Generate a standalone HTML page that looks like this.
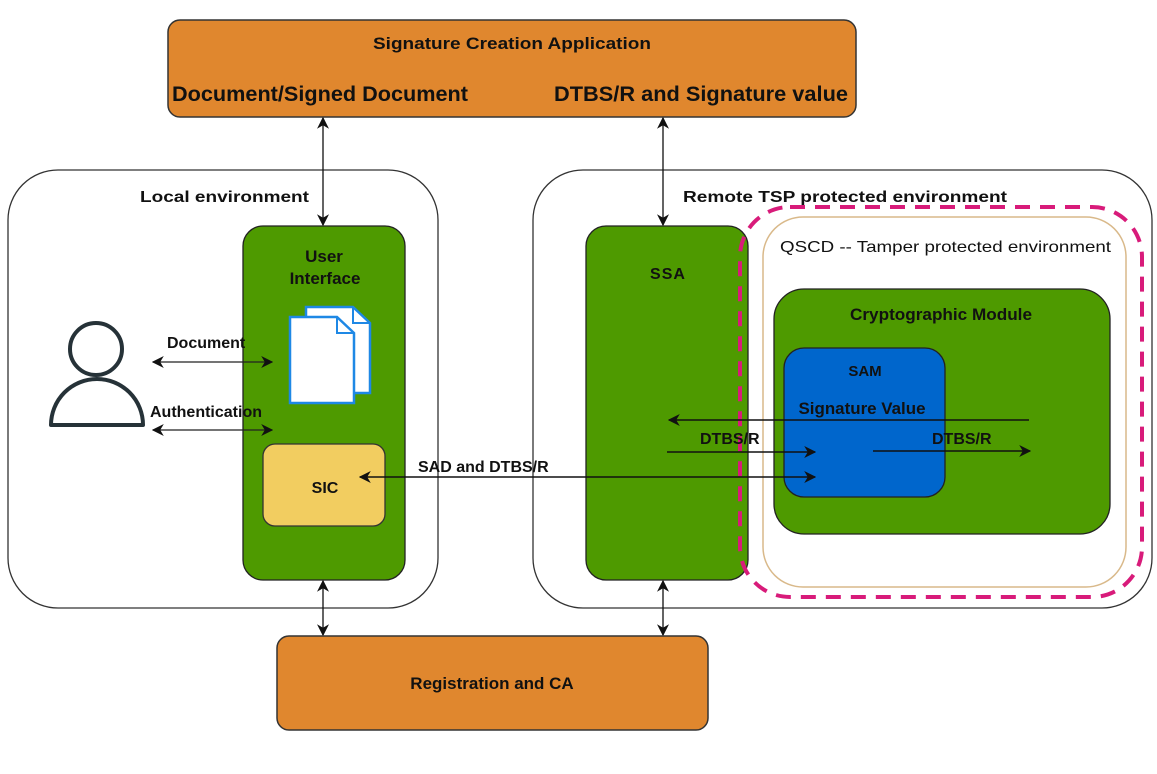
<!DOCTYPE html>
<html><head><meta charset="utf-8"><style>html,body{margin:0;padding:0;background:#fff}svg{display:block}text{font-family:"Liberation Sans",Arial,sans-serif;fill:#111}</style></head>
<body>
<svg width="1157" height="774" viewBox="0 0 1157 774" xmlns="http://www.w3.org/2000/svg">
<defs>
<marker id="a" viewBox="0 0 10 10" refX="9" refY="5" markerWidth="12" markerHeight="12" orient="auto-start-reverse" markerUnits="userSpaceOnUse"><path d="M0,0 L10,5 L0,10 L3,5 z" fill="#111"/></marker>
</defs>
<rect x="168" y="20" width="688" height="97" rx="12" fill="#E0872E" stroke="#333" stroke-width="1.5"/>
<text x="512" y="49" font-size="17" font-weight="bold" text-anchor="middle" textLength="278" lengthAdjust="spacingAndGlyphs">Signature Creation Application</text>
<text x="172" y="101" font-size="21" font-weight="bold" textLength="296" lengthAdjust="spacingAndGlyphs">Document/Signed Document</text>
<text x="554" y="101" font-size="21" font-weight="bold" textLength="294" lengthAdjust="spacingAndGlyphs">DTBS/R and Signature value</text>
<rect x="8" y="170" width="430" height="438" rx="50" fill="#fff" stroke="#333" stroke-width="1.3"/>
<text x="140" y="202" font-size="16" font-weight="bold" textLength="169" lengthAdjust="spacingAndGlyphs">Local environment</text>
<rect x="533" y="170" width="619" height="438" rx="50" fill="#fff" stroke="#333" stroke-width="1.3"/>
<text x="683" y="202" font-size="16" font-weight="bold" textLength="324" lengthAdjust="spacingAndGlyphs">Remote TSP protected environment</text>
<rect x="243" y="226" width="162" height="354" rx="20" fill="#4E9A00" stroke="#222" stroke-width="1.3"/>
<text x="324" y="262" font-size="17" font-weight="bold" text-anchor="middle">User</text>
<text x="325" y="284" font-size="17" font-weight="bold" text-anchor="middle">Interface</text>
<path d="M306,307 H353 L370,323 V393 H306 Z" fill="#fff" stroke="#1E88E5" stroke-width="2.5"/>
<path d="M353,307 V323 H370" fill="none" stroke="#1E88E5" stroke-width="2"/>
<path d="M290,317 H337 L354,333 V403 H290 Z" fill="#fff" stroke="#1E88E5" stroke-width="2.5"/>
<path d="M337,317 V333 H354" fill="none" stroke="#1E88E5" stroke-width="2"/>
<rect x="263" y="444" width="122" height="82" rx="12" fill="#F2CD60" stroke="#333" stroke-width="1.3"/>
<text x="325" y="493" font-size="16" font-weight="bold" text-anchor="middle">SIC</text>
<circle cx="96" cy="349" r="26" fill="none" stroke="#263238" stroke-width="4"/>
<path d="M51,425 A46,46 0 0 1 143,425 Z" fill="none" stroke="#263238" stroke-width="4" stroke-linejoin="round"/>
<text x="167" y="348" font-size="16" font-weight="bold">Document</text>
<line x1="153" y1="362" x2="272" y2="362" stroke="#222" stroke-width="1.3" marker-start="url(#a)" marker-end="url(#a)"/>
<text x="150" y="417" font-size="16" font-weight="bold">Authentication</text>
<line x1="153" y1="430" x2="272" y2="430" stroke="#222" stroke-width="1.3" marker-start="url(#a)" marker-end="url(#a)"/>
<rect x="586" y="226" width="162" height="354" rx="20" fill="#4E9A00" stroke="#222" stroke-width="1.3"/>
<text x="668" y="279" font-size="16" font-weight="bold" text-anchor="middle" letter-spacing="1">SSA</text>
<rect x="740" y="207" width="402" height="390" rx="50" fill="none" stroke="#D81B7A" stroke-width="4" stroke-dasharray="15 10"/>
<rect x="763" y="217" width="363" height="370" rx="40" fill="none" stroke="#D9B98A" stroke-width="1.5"/>
<text x="780" y="252" font-size="16" textLength="331" lengthAdjust="spacingAndGlyphs">QSCD -- Tamper protected environment</text>
<rect x="774" y="289" width="336" height="245" rx="30" fill="#4E9A00" stroke="#222" stroke-width="1.3"/>
<text x="941" y="320" font-size="17" font-weight="bold" text-anchor="middle" textLength="182" lengthAdjust="spacingAndGlyphs">Cryptographic Module</text>
<rect x="784" y="348" width="161" height="149" rx="20" fill="#0066CC" stroke="#222" stroke-width="1.3"/>
<text x="865" y="376" font-size="15" font-weight="bold" text-anchor="middle">SAM</text>
<text x="862" y="414" font-size="17" font-weight="bold" text-anchor="middle" textLength="127" lengthAdjust="spacingAndGlyphs">Signature Value</text>
<line x1="1029" y1="420" x2="669" y2="420" stroke="#111" stroke-width="1.5" marker-end="url(#a)"/>
<text x="700" y="444" font-size="16" font-weight="bold">DTBS/R</text>
<line x1="667" y1="452" x2="815" y2="452" stroke="#111" stroke-width="1.5" marker-end="url(#a)"/>
<text x="932" y="444" font-size="16" font-weight="bold">DTBS/R</text>
<line x1="873" y1="451" x2="1030" y2="451" stroke="#111" stroke-width="1.5" marker-end="url(#a)"/>
<text x="418" y="472" font-size="16" font-weight="bold">SAD and DTBS/R</text>
<line x1="360" y1="477" x2="815" y2="477" stroke="#111" stroke-width="1.5" marker-start="url(#a)" marker-end="url(#a)"/>
<line x1="323" y1="118" x2="323" y2="225" stroke="#111" stroke-width="1.3" marker-start="url(#a)" marker-end="url(#a)"/>
<line x1="323" y1="581" x2="323" y2="635" stroke="#111" stroke-width="1.3" marker-start="url(#a)" marker-end="url(#a)"/>
<line x1="663" y1="118" x2="663" y2="225" stroke="#111" stroke-width="1.3" marker-start="url(#a)" marker-end="url(#a)"/>
<line x1="663" y1="581" x2="663" y2="635" stroke="#111" stroke-width="1.3" marker-start="url(#a)" marker-end="url(#a)"/>
<rect x="277" y="636" width="431" height="94" rx="12" fill="#E0872E" stroke="#333" stroke-width="1.5"/>
<text x="492" y="689" font-size="17" font-weight="bold" text-anchor="middle">Registration and CA</text>
</svg>
</body></html>
